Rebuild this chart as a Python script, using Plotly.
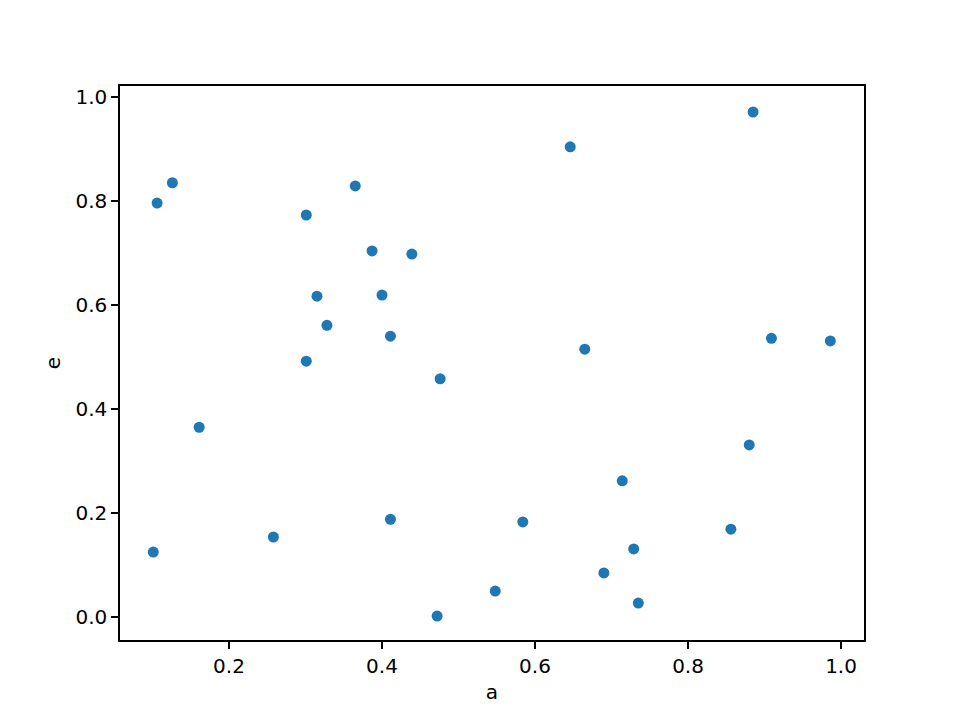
"""Scatter plot of column a against column e."""

import plotly.graph_objects as go

a_values = [
    0.101, 0.106, 0.126, 0.161, 0.258, 0.301, 0.301, 0.315, 0.328, 0.365,
    0.387, 0.400, 0.411, 0.411, 0.439, 0.476, 0.472, 0.548, 0.584, 0.646,
    0.665, 0.690, 0.714, 0.729, 0.735, 0.856, 0.880, 0.885, 0.909, 0.986,
]
e_values = [
    0.125, 0.796, 0.835, 0.365, 0.154, 0.773, 0.492, 0.617, 0.561, 0.829,
    0.704, 0.619, 0.540, 0.188, 0.698, 0.458, 0.002, 0.050, 0.183, 0.904,
    0.515, 0.085, 0.262, 0.131, 0.027, 0.169, 0.331, 0.971, 0.536, 0.531,
]
x_ticks = [0.2, 0.4, 0.6, 0.8, 1.0]
y_ticks = [0.0, 0.2, 0.4, 0.6, 0.8, 1.0]

fig = go.Figure(
    go.Scatter(
        x=a_values,
        y=e_values,
        mode="markers",
        marker=dict(color="#1f77b4", size=11, line=dict(width=0)),
        showlegend=False,
    )
)

axis_style = dict(
    showgrid=False,
    zeroline=False,
    showline=True,
    mirror=True,
    linecolor="black",
    linewidth=1.5,
    ticks="outside",
    ticklen=7,
    tickwidth=1.5,
    tickcolor="black",
    tickfont=dict(size=20, color="black"),
    title_font=dict(size=20, color="black"),
)

fig.update_xaxes(
    title_text="a",
    range=[0.0575, 1.030],
    tickvals=x_ticks,
    ticktext=[f"{t:.1f}" for t in x_ticks],
    title_standoff=8,
    **axis_style,
)
fig.update_yaxes(
    title_text="e",
    range=[-0.044, 1.021],
    tickvals=y_ticks,
    ticktext=[f"{t:.1f}" for t in y_ticks],
    title_standoff=9,
    **axis_style,
)

# the page adds an 8px body margin, so the margins are shifted to compensate
fig.update_layout(
    width=960,
    height=720,
    margin=dict(l=112, r=104, t=78, b=88),
    plot_bgcolor="white",
    paper_bgcolor="white",
    font=dict(family="DejaVu Sans", color="black"),
)

fig.write_html("out.html")
